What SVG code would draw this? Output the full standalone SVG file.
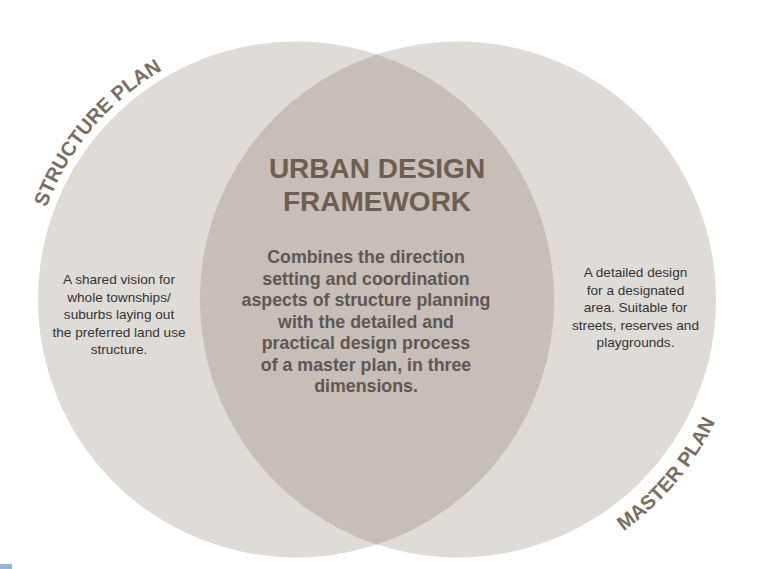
<svg xmlns="http://www.w3.org/2000/svg" width="770" height="569" viewBox="0 0 770 569">
<style>
.circ{fill:#dfdbd7}
.lens{fill:#c7beb7}
.arc{font-family:"Liberation Sans",Arial,sans-serif;font-weight:bold;font-size:20px;fill:#7a6e62}
.title{font-family:"Liberation Sans",Arial,sans-serif;font-weight:bold;font-size:28px;fill:#6b5f51;text-anchor:middle}
.body{font-family:"Liberation Sans",Arial,sans-serif;font-weight:bold;font-size:17.8px;fill:#5d5853;text-anchor:middle}
.side{font-family:"Liberation Sans",Arial,sans-serif;font-size:13.6px;fill:#333;text-anchor:middle}
</style>
<defs>
<path id="arcL" d="M 34.04 345.19 A 264 264 0 0 1 296 35" fill="none"/>
<path id="arcR" d="M 458 584 A 285 285 0 0 0 738.7 249.5" fill="none"/>
</defs>
<rect width="770" height="569" fill="#fff"/>
<g id="structure-plan">
<circle class="circ" cx="296" cy="299.5" r="258"/>
<text class="arc"><textPath href="#arcL" startOffset="50%" text-anchor="middle">STRUCTURE PLAN</textPath></text>
<text class="side"><tspan x="119" y="284">A shared vision for</tspan><tspan x="119" y="301.5">whole townships/</tspan><tspan x="119" y="319">suburbs laying out</tspan><tspan x="119" y="336.5">the preferred land use</tspan><tspan x="119" y="354">structure.</tspan></text>
</g>
<g id="master-plan">
<circle class="circ" cx="458" cy="299.5" r="258"/>
<text class="arc"><textPath href="#arcR" startOffset="50%" text-anchor="middle">MASTER PLAN</textPath></text>
<text class="side"><tspan x="635.5" y="277">A detailed design</tspan><tspan x="635.5" y="294.5">for a designated</tspan><tspan x="635.5" y="312">area. Suitable for</tspan><tspan x="635.5" y="329.5">streets, reserves and</tspan><tspan x="635.5" y="347">playgrounds.</tspan></text>
</g>
<g id="urban-design-framework">
<path class="lens" d="M 377 54.5 A 258 258 0 0 0 377 544.5 A 258 258 0 0 0 377 54.5 Z"/>
<text class="title"><tspan x="377" y="178">URBAN DESIGN</tspan><tspan x="377" y="211">FRAMEWORK</tspan></text>
<text class="body"><tspan x="366" y="263">Combines the direction</tspan><tspan x="366" y="284.5">setting and coordination</tspan><tspan x="366" y="306">aspects of structure planning</tspan><tspan x="366" y="327.5">with the detailed and</tspan><tspan x="366" y="349">practical design process</tspan><tspan x="366" y="370.5">of a master plan, in three</tspan><tspan x="366" y="392">dimensions.</tspan></text>
</g>
<rect x="0" y="564" width="12" height="5" fill="#93b6d9"/>
</svg>
